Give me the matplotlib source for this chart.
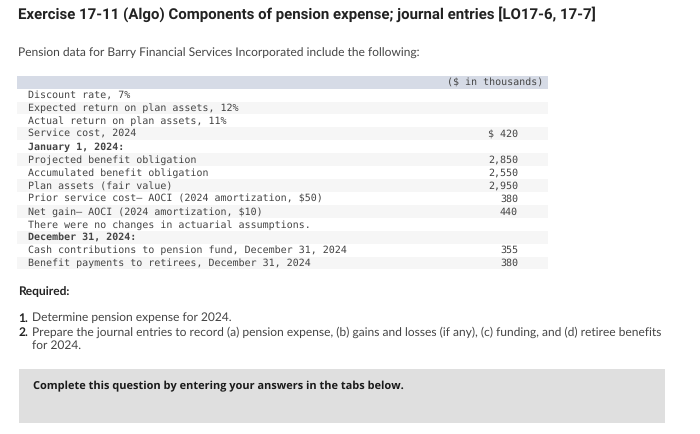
import matplotlib.pyplot as plt
from matplotlib.patches import Rectangle

plt.rcParams["text.hinting"] = "no_hinting"
plt.rcParams["text.hinting_factor"] = 1

# table contents
row_labels = [
    "Discount rate, 7%",
    "Expected return on plan assets, 12%",
    "Actual return on plan assets, 11%",
    "Service cost, 2024",
    "January 1, 2024:",
    "Projected benefit obligation",
    "Accumulated benefit obligation",
    "Plan assets (fair value)",
    "Prior service cost\u2013 AOCI (2024 amortization, $50)",
    "Net gain\u2013 AOCI (2024 amortization, $10)",
    "There were no changes in actuarial assumptions.",
    "December 31, 2024:",
    "Cash contributions to pension fund, December 31, 2024",
    "Benefit payments to retirees, December 31, 2024",
]
row_values = ["", "", "", "$ 420", "", "2,850", "2,550", "2,950", "380", "440", "", "", "355", "380"]
bold_rows = ["January 1, 2024:", "December 31, 2024:"]

title = "Exercise 17-11 (Algo) Components of pension expense; journal entries [LO17-6, 17-7]"
intro = "Pension data for Barry Financial Services Incorporated include the following:"
units = "($ in thousands)"
required = "Required:"
steps = [
    ("1.", "Determine pension expense for 2024."),
    ("2.", "Prepare the journal entries to record (a) pension expense, (b) gains and losses (if any), (c) funding, and (d) retiree benefits"),
    ("", "for 2024."),
]
notice = "Complete this question by entering your answers in the tabs below."

fig = plt.figure(figsize=(7, 4.34), dpi=100)
ax = fig.add_axes([0, 0, 1, 1])
ax.set_xlim(0, 700)
ax.set_ylim(434, 0)
ax.axis("off")

sans = "Lato"
mono = "DejaVu Sans Mono"
text_col = "#444444"

ax.text(18, 14, title, family="Roboto", fontsize=10.9, fontweight="bold", color="#222222", va="center")
ax.text(18, 53, intro, family=sans, fontsize=8.6, color=text_col, va="center")

# header band
ax.add_patch(Rectangle((17, 76), 531, 12.5, color="#d6dbe6", lw=0))
ax.text(543, 82.4, units, family=mono, fontsize=7.1, color=text_col, ha="right", va="center")

step = 12.92
for i, lab in enumerate(row_labels):
    y = 95 + i * step
    if i % 2 == 1:
        ax.add_patch(Rectangle((17, y - 6.4), 531, 12.8, color="#f6f6f6", lw=0))
    weight = "bold" if lab in bold_rows else "normal"
    ax.text(28.5, y + 0.5, lab, family=mono, fontsize=7.1, fontweight=weight, color=text_col, va="center")
    if row_values[i]:
        ax.text(518, y + 0.5, row_values[i], family=mono, fontsize=7.1, color=text_col, ha="right", va="center")

ax.text(18, 291.5, required, family=sans, fontsize=8.7, fontweight="bold", color="#222222", va="center")

for (num, line), y in zip(steps, [318, 332, 346]):
    if num:
        ax.text(28, y, num, family=sans, fontsize=8.8, fontweight="bold", color="#222222", ha="right", va="center")
    ax.text(32, y, line, family=sans, fontsize=8.8, color=text_col, va="center")

# grey notice box
ax.add_patch(Rectangle((19, 369), 646, 54, color="#dfdfdf", lw=0))
ax.text(33, 386, notice, family="Open Sans", fontsize=8, fontweight="bold", color="#1a1a1a", va="center")

fig.savefig("out.png", dpi=100)
